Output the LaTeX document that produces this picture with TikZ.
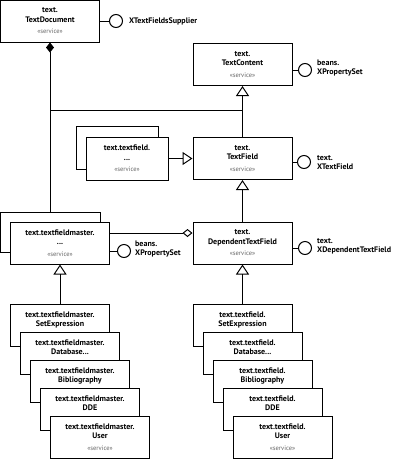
\documentclass[tikz,border=0pt]{standalone}
\usepackage{fontspec}
\setmainfont{PT Sans}
\usepackage{tikz}
\usetikzlibrary{calc,shapes,positioning}
\usetikzlibrary{arrows.meta}
\tikzset{>={Straight Barb[width=1.3mm,length=1.3mm]}}
\newcommand{\svc}{{\fontsize{6.5}{7}\selectfont\mdseries\color{black!60}<<service>>}}

\begin{document}
\begin{tikzpicture}[x=1pt,y=-1pt]
  \useasboundingbox (0,0) rectangle (400,459);

  \tikzstyle{snode} = [draw, line width=1pt, fill=white, rectangle, minimum width=99pt, minimum height=42pt, inner sep=1pt, align=center, font=\fontsize{8}{9.5}\selectfont\bfseries, execute at begin node=\rule{0pt}{10.5pt}]
  \tikzstyle{lnode} = [draw, line width=1pt, fill=white, circle, minimum size=13pt, inner sep=0pt]
  \tikzstyle{tnode} = [anchor=west, inner sep=1pt, align=left, font=\fontsize{8}{9}\selectfont\bfseries]
  \tikzstyle{gen} = [line width=1pt, -{Triangle[open,length=10pt,width=13pt]}]

  \node[snode] (doc) at (50,21) {text.\\TextDocument\\[2pt]\svc};
  \node[lnode] (lpdoc) at (116,21) {};
  \node[tnode] (ldoc) at (128,21) {XTextFieldsSupplier};

  \node[snode] (tc) at (242.5,64.5) {text.\\TextContent\\[2pt]\svc};
  \node[lnode] (lptc) at (305,70) {};
  \node[tnode] (ltc) at (316,68.5) {beans.\\XPropertySet};

  \node[snode, minimum width=82pt, minimum height=43pt] (tfxb) at (117,147.5) {};
  \node[snode, minimum width=82pt, minimum height=43pt] (tfx) at (127,158.5) {text.textfield.\\...\\[2pt]\svc};

  \node[snode] (tf) at (242.5,158.5) {text.\\TextField\\[2pt]\svc};
  \node[lnode] (lptf) at (304,162) {};
  \node[tnode] (ltf) at (316,162.5) {text.\\XTextField};

  \node[snode, minimum width=100pt, minimum height=40pt] (mb) at (50,232) {};
  \node[snode] (mf) at (60,243) {text.textfieldmaster.\\...\\[2pt]\svc};
  \node[lnode] (lpmf) at (124,251) {};
  \node[tnode] (lmf) at (134,249.5) {beans.\\XPropertySet};

  \node[snode] (dtf) at (242.5,243) {text.\\DependentTextField\\[2pt]\svc};
  \node[lnode] (lpdtf) at (305,248) {};
  \node[tnode] (ldtf) at (316,246.5) {text.\\XDependentTextField};

  % stack textfieldmaster
  \node[snode] (ls1) at (60,325) {text.textfieldmaster.\\SetExpression\\[2pt]\vphantom{\svc}};
  \node[snode] (ls2) at (70,353) {text.textfieldmaster.\\Database...\\[2pt]\vphantom{\svc}};
  \node[snode] (ls3) at (80,381) {text.textfieldmaster.\\Bibliography\\[2pt]\vphantom{\svc}};
  \node[snode] (ls4) at (90,409) {text.textfieldmaster.\\DDE\\[2pt]\vphantom{\svc}};
  \node[snode] (ls5) at (100,437) {text.textfieldmaster.\\User\\[2pt]\svc};

  % stack textfield
  \node[snode] (rs1) at (242.5,325) {text.textfield.\\SetExpression\\[2pt]\vphantom{\svc}};
  \node[snode] (rs2) at (252.5,353) {text.textfield.\\Database...\\[2pt]\vphantom{\svc}};
  \node[snode] (rs3) at (262.5,381) {text.textfield.\\Bibliography\\[2pt]\vphantom{\svc}};
  \node[snode] (rs4) at (272.5,409) {text.textfield.\\DDE\\[2pt]\vphantom{\svc}};
  \node[snode] (rs5) at (282.5,437) {text.textfield.\\User\\[2pt]\svc};

  \coordinate (j1) at (50,110);
  \coordinate (j2) at (242.5,110);

  % generalization
  \draw[gen] (tf) -- (tc);
  \draw[gen] (tfx) -- (tf);
  \draw[gen] (dtf) -- (tf);
  \draw[gen] (ls1) -- (mf);
  \draw[gen] (rs1) -- (dtf);

  % composition and aggregation
  \draw[line width=1pt, {Diamond[length=10pt,width=8pt]}-] (doc) -- (mb);
  \draw[line width=1pt] (j1) -- (j2);
  \draw[line width=1pt, -{Diamond[open,length=10pt,width=8pt]}] ([yshift=10pt]mf.east) -- ([yshift=10pt]dtf.west);

  % interfaces
  \draw[line width=1pt] (doc.east |- lpdoc) -- (lpdoc);
  \draw[line width=1pt] (tc.east |- lptc) -- (lptc);
  \draw[line width=1pt] (tf.east |- lptf) -- (lptf);
  \draw[line width=1pt] (mf.east |- lpmf) -- (lpmf);
  \draw[line width=1pt] (dtf.east |- lpdtf) -- (lpdtf);
\end{tikzpicture}
\end{document}
